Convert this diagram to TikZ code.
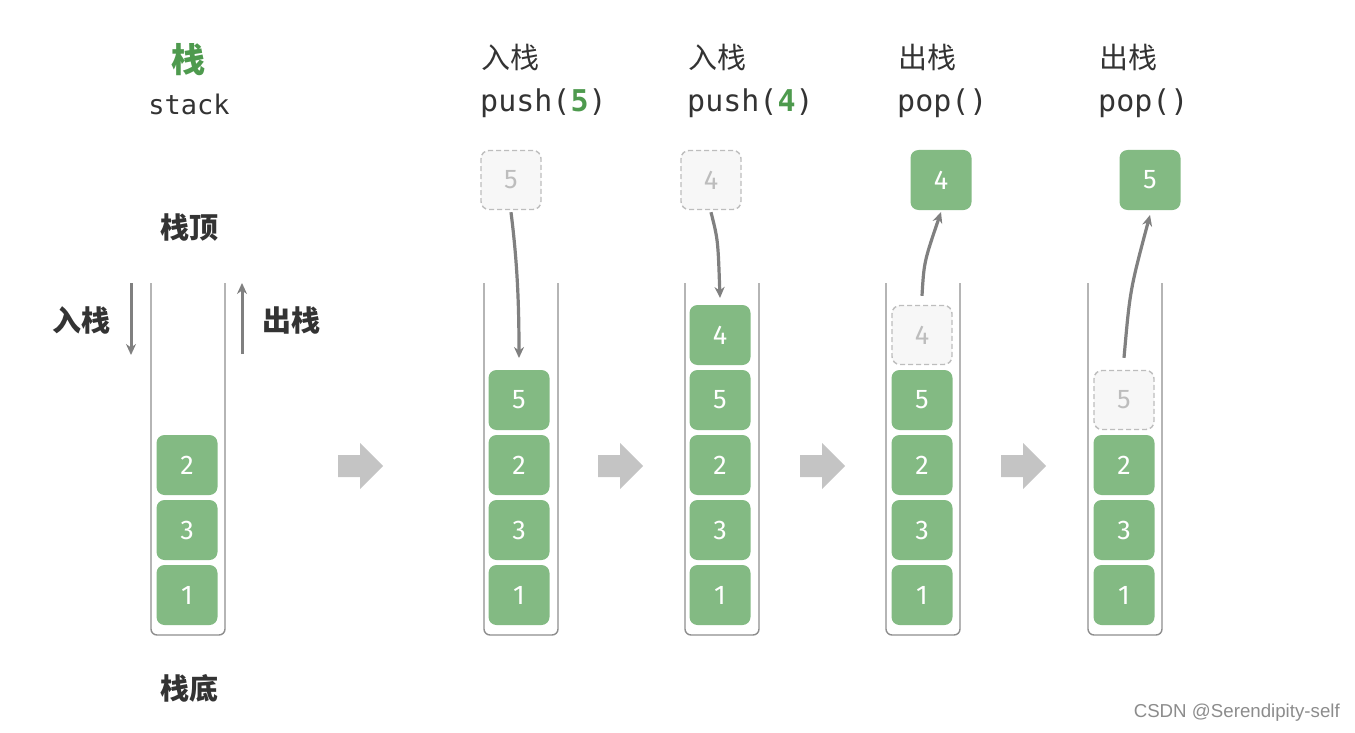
\documentclass[tikz,border=0pt]{standalone}
\usepackage{fontspec}
\usetikzlibrary{arrows.meta}
\setmainfont{Fira Sans}
\newfontfamily\cjk{Noto Sans CJK SC}
\newfontfamily\mono{DejaVu Sans Mono}
\newfontfamily\wmfont{Liberation Sans}
\definecolor{blk}{HTML}{83BA83}
\definecolor{ttl}{HTML}{4E9A4E}
\definecolor{txt}{HTML}{333333}
\definecolor{arr}{HTML}{808080}
\definecolor{dsh}{HTML}{BDBDBD}
\definecolor{dfill}{HTML}{F7F7F7}
\definecolor{bigc}{HTML}{C4C4C4}
\definecolor{wall}{HTML}{8E8E8E}
\tikzset{
  blkbox/.style={rectangle, rounded corners=8pt, fill=blk, minimum width=61pt, minimum height=60pt, inner sep=0pt, text=white, font=\fontsize{27}{29}\selectfont},
  ghost/.style={rectangle, rounded corners=8pt, fill=dfill, draw=dsh, line width=1.4pt, dash pattern=on 5pt off 3pt, minimum width=60pt, minimum height=59pt, inner sep=0pt, text=dsh, font=\fontsize{27}{29}\selectfont},
  tube/.style={draw=wall, line width=1.4pt, rounded corners=6pt},
  mv/.style={draw=arr, line width=3.2pt, -{Stealth[length=11pt,width=10pt]}},
  side/.style={draw=arr, line width=3pt, -{Stealth[length=11pt,width=10pt]}},
  hdr/.style={anchor=west, text=txt, inner sep=0pt, font=\cjk\fontsize{29}{32}\selectfont},
  code/.style={anchor=west, text=txt, inner sep=0pt, font=\mono\fontsize{30}{32}\selectfont},
  lbl/.style={text=txt, inner sep=0pt, font=\cjk\bfseries\fontsize{29}{32}\selectfont}
}
\newcommand{\bigarrow}[2]{\fill[bigc] (#1-22,#2-11) -- (#1,#2-11) -- (#1,#2-23) -- (#1+23,#2) -- (#1,#2+23) -- (#1,#2+11) -- (#1-22,#2+11) -- cycle;}
\newcommand{\tubeat}[1]{\draw[tube] (#1-37,283) -- (#1-37,635) -- (#1+37,635) -- (#1+37,283);}
\begin{document}
\begin{tikzpicture}[x=1pt,y=-1pt]
\useasboundingbox (0,0) rectangle (1355,733);
% column 1
\node[text=ttl, inner sep=0pt, font=\cjk\bfseries\fontsize{34}{36}\selectfont] (t1) at (188,60) {栈};
\node[text=txt, inner sep=0pt, font=\mono\fontsize{27}{29}\selectfont] (s1) at (189,104) {stack};
\node[lbl] (top) at (189,228) {栈顶};
\node[lbl] (bot) at (189,688) {栈底};
\node[lbl] (in) at (81,320) {入栈};
\node[lbl] (out) at (291,320) {出栈};
\coordinate (ina) at (131,283); \coordinate (inb) at (131,355);
\coordinate (outa) at (242,354); \coordinate (outb) at (242,283);
\draw[side] (ina) -- (inb);
\draw[side] (outa) -- (outb);
\tubeat{188}
\node[blkbox] (a2) at (187,465) {2};
\node[blkbox] (a3) at (187,530) {3};
\node[blkbox] (a1) at (187,595) {1};
% column 2
\node[hdr] (h2) at (481,57) {入栈};
\node[code] (c2) at (480,103) {push(\textcolor{ttl}{\bfseries 5})};
\tubeat{521}
\node[ghost] (g2) at (511,180) {5};
\node[blkbox] (b5) at (519,400) {5};
\node[blkbox] (b2) at (519,465) {2};
\node[blkbox] (b3) at (519,530) {3};
\node[blkbox] (b1) at (519,595) {1};
\coordinate (e2) at (519,358);
\draw[mv] (g2.south) ++(0,2) .. controls (517,260) and (519,300) .. (e2);
% column 3
\node[hdr] (h3) at (688,57) {入栈};
\node[code] (c3) at (687,103) {push(\textcolor{ttl}{\bfseries 4})};
\tubeat{722}
\node[ghost] (g3) at (711,180) {4};
\node[blkbox] (k4) at (720,335) {4};
\node[blkbox] (k5) at (720,400) {5};
\node[blkbox] (k2) at (720,465) {2};
\node[blkbox] (k3) at (720,530) {3};
\node[blkbox] (k1) at (720,595) {1};
\coordinate (e3) at (720,298);
\draw[mv] (g3.south) ++(0,2) .. controls (718,240) .. (e3);
% column 4
\node[hdr] (h4) at (898,57) {出栈};
\node[code] (c4) at (897,103) {pop()};
\tubeat{923}
\node[blkbox] (m4) at (941,180) {4};
\node[ghost] (q4) at (922,335) {4};
\node[blkbox] (m5) at (922,400) {5};
\node[blkbox] (m2) at (922,465) {2};
\node[blkbox] (m3) at (922,530) {3};
\node[blkbox] (m1) at (922,595) {1};
\coordinate (e4) at (941,212);
\draw[mv] (q4.north) ++(0,-9) .. controls (924,262) .. (e4);
% column 5
\node[hdr] (h5) at (1099,57) {出栈};
\node[code] (c5) at (1098,103) {pop()};
\tubeat{1125}
\node[blkbox] (n5) at (1150,180) {5};
\node[ghost] (q5) at (1124,400) {5};
\node[blkbox] (n2) at (1124,465) {2};
\node[blkbox] (n3) at (1124,530) {3};
\node[blkbox] (n1) at (1124,595) {1};
\coordinate (e5) at (1150,215);
\draw[mv] (q5.north) ++(0,-12) .. controls (1130,290) .. (e5);
% big arrows
\bigarrow{360}{466}
\bigarrow{620}{466}
\bigarrow{822}{466}
\bigarrow{1023}{466}
% watermark
\node[text=black!45, inner sep=0pt, anchor=east, font=\wmfont\fontsize{18.7}{20}\selectfont] (wm) at (1340,713) {CSDN @Serendipity-self};
\end{tikzpicture}
\end{document}
